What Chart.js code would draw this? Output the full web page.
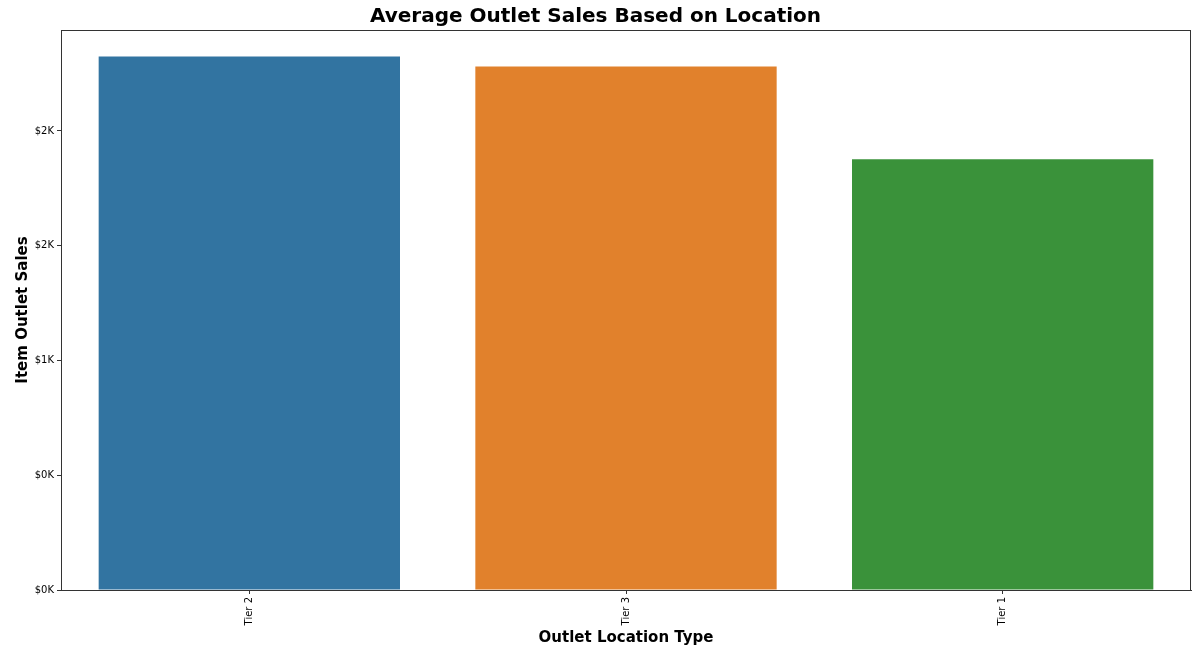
<!DOCTYPE html>
<html>
<head>
<meta charset="utf-8">
<script src="https://cdn.jsdelivr.net/npm/chart.js@4/dist/chart.umd.min.js"></script>
<style>
  html, body { margin: 0; padding: 0; background: #fff; }
  #wrap { width: 1192px; height: 658px; }
</style>
</head>
<body>
<div id="wrap"><canvas id="chartVentas"></canvas></div>
<script>
// Datos
const categorias = ['Tier 2', 'Tier 3', 'Tier 1'];
const ventasPromedio = [2325, 2281, 1877];
const colores = ['#3274a1', '#e1812c', '#3a923a'];
const valoresTicks = [0, 500, 1000, 1500, 2000];
const etiquetasTicks = ['$0K', '$0K', '$1K', '$2K', '$2K'];

const fuente = "'DejaVu Sans', sans-serif";

// Marco completo alrededor del área de la gráfica
const marco = {
    id: 'marco',
    afterDraw(chart) {
        const { ctx, chartArea: a } = chart;
        ctx.save();
        ctx.strokeStyle = '#333';
        ctx.lineWidth = 1;
        ctx.strokeRect(Math.round(a.left) + 0.5, Math.round(a.top) + 0.5,
            Math.round(a.right - a.left) - 1, Math.round(a.bottom - a.top));
        ctx.restore();
    }
};

const ctx = document.getElementById('chartVentas').getContext('2d');
new Chart(ctx, {
    type: 'bar',
    data: {
        labels: categorias,
        datasets: [{
            data: ventasPromedio,
            backgroundColor: colores,
            borderWidth: 0,
            categoryPercentage: 0.8,
            barPercentage: 1
        }]
    },
    options: {
        responsive: true,
        maintainAspectRatio: false,
        animation: false,
        layout: { padding: { left: 0, right: 1, top: 0, bottom: 0 } },
        scales: {
            x: {
                grid: { offset: false, drawOnChartArea: false, drawTicks: true, tickLength: 4, color: '#333' },
                border: { display: true, color: '#333' },
                ticks: {
                    minRotation: 90, maxRotation: 90, padding: 3,
                    color: '#000', font: { family: fuente, size: 10 }
                },
                title: {
                    display: true,
                    text: 'Outlet Location Type',
                    color: '#000',
                    font: { family: fuente, size: 15, weight: 'bold' },
                    padding: { top: 0, bottom: 11 }
                },
                afterFit(scale) { scale.height = 68; }
            },
            y: {
                min: 0,
                max: 2440,
                grid: { drawOnChartArea: false, drawTicks: true, tickLength: 4, color: '#333' },
                border: { display: true, color: '#333' },
                afterBuildTicks(scale) {
                    scale.ticks = valoresTicks.map(v => ({ value: v }));
                },
                ticks: {
                    padding: 3,
                    color: '#000',
                    font: { family: fuente, size: 10 },
                    callback: function (value, index) {
                        return etiquetasTicks[index];
                    }
                },
                title: {
                    display: true,
                    text: 'Item Outlet Sales',
                    color: '#000',
                    font: { family: fuente, size: 15, weight: 'bold' },
                    padding: { top: 14, bottom: 0 }
                },
                afterFit(scale) { scale.width = 61; }
            }
        },
        plugins: {
            legend: { display: false },
            tooltip: { enabled: false },
            title: {
                display: true,
                text: 'Average Outlet Sales Based on Location',
                color: '#000',
                font: { family: fuente, size: 20, weight: 'bold', lineHeight: 1 },
                padding: { top: 7, bottom: 3 }
            }
        }
    },
    plugins: [marco]
});
</script>
</body>
</html>
